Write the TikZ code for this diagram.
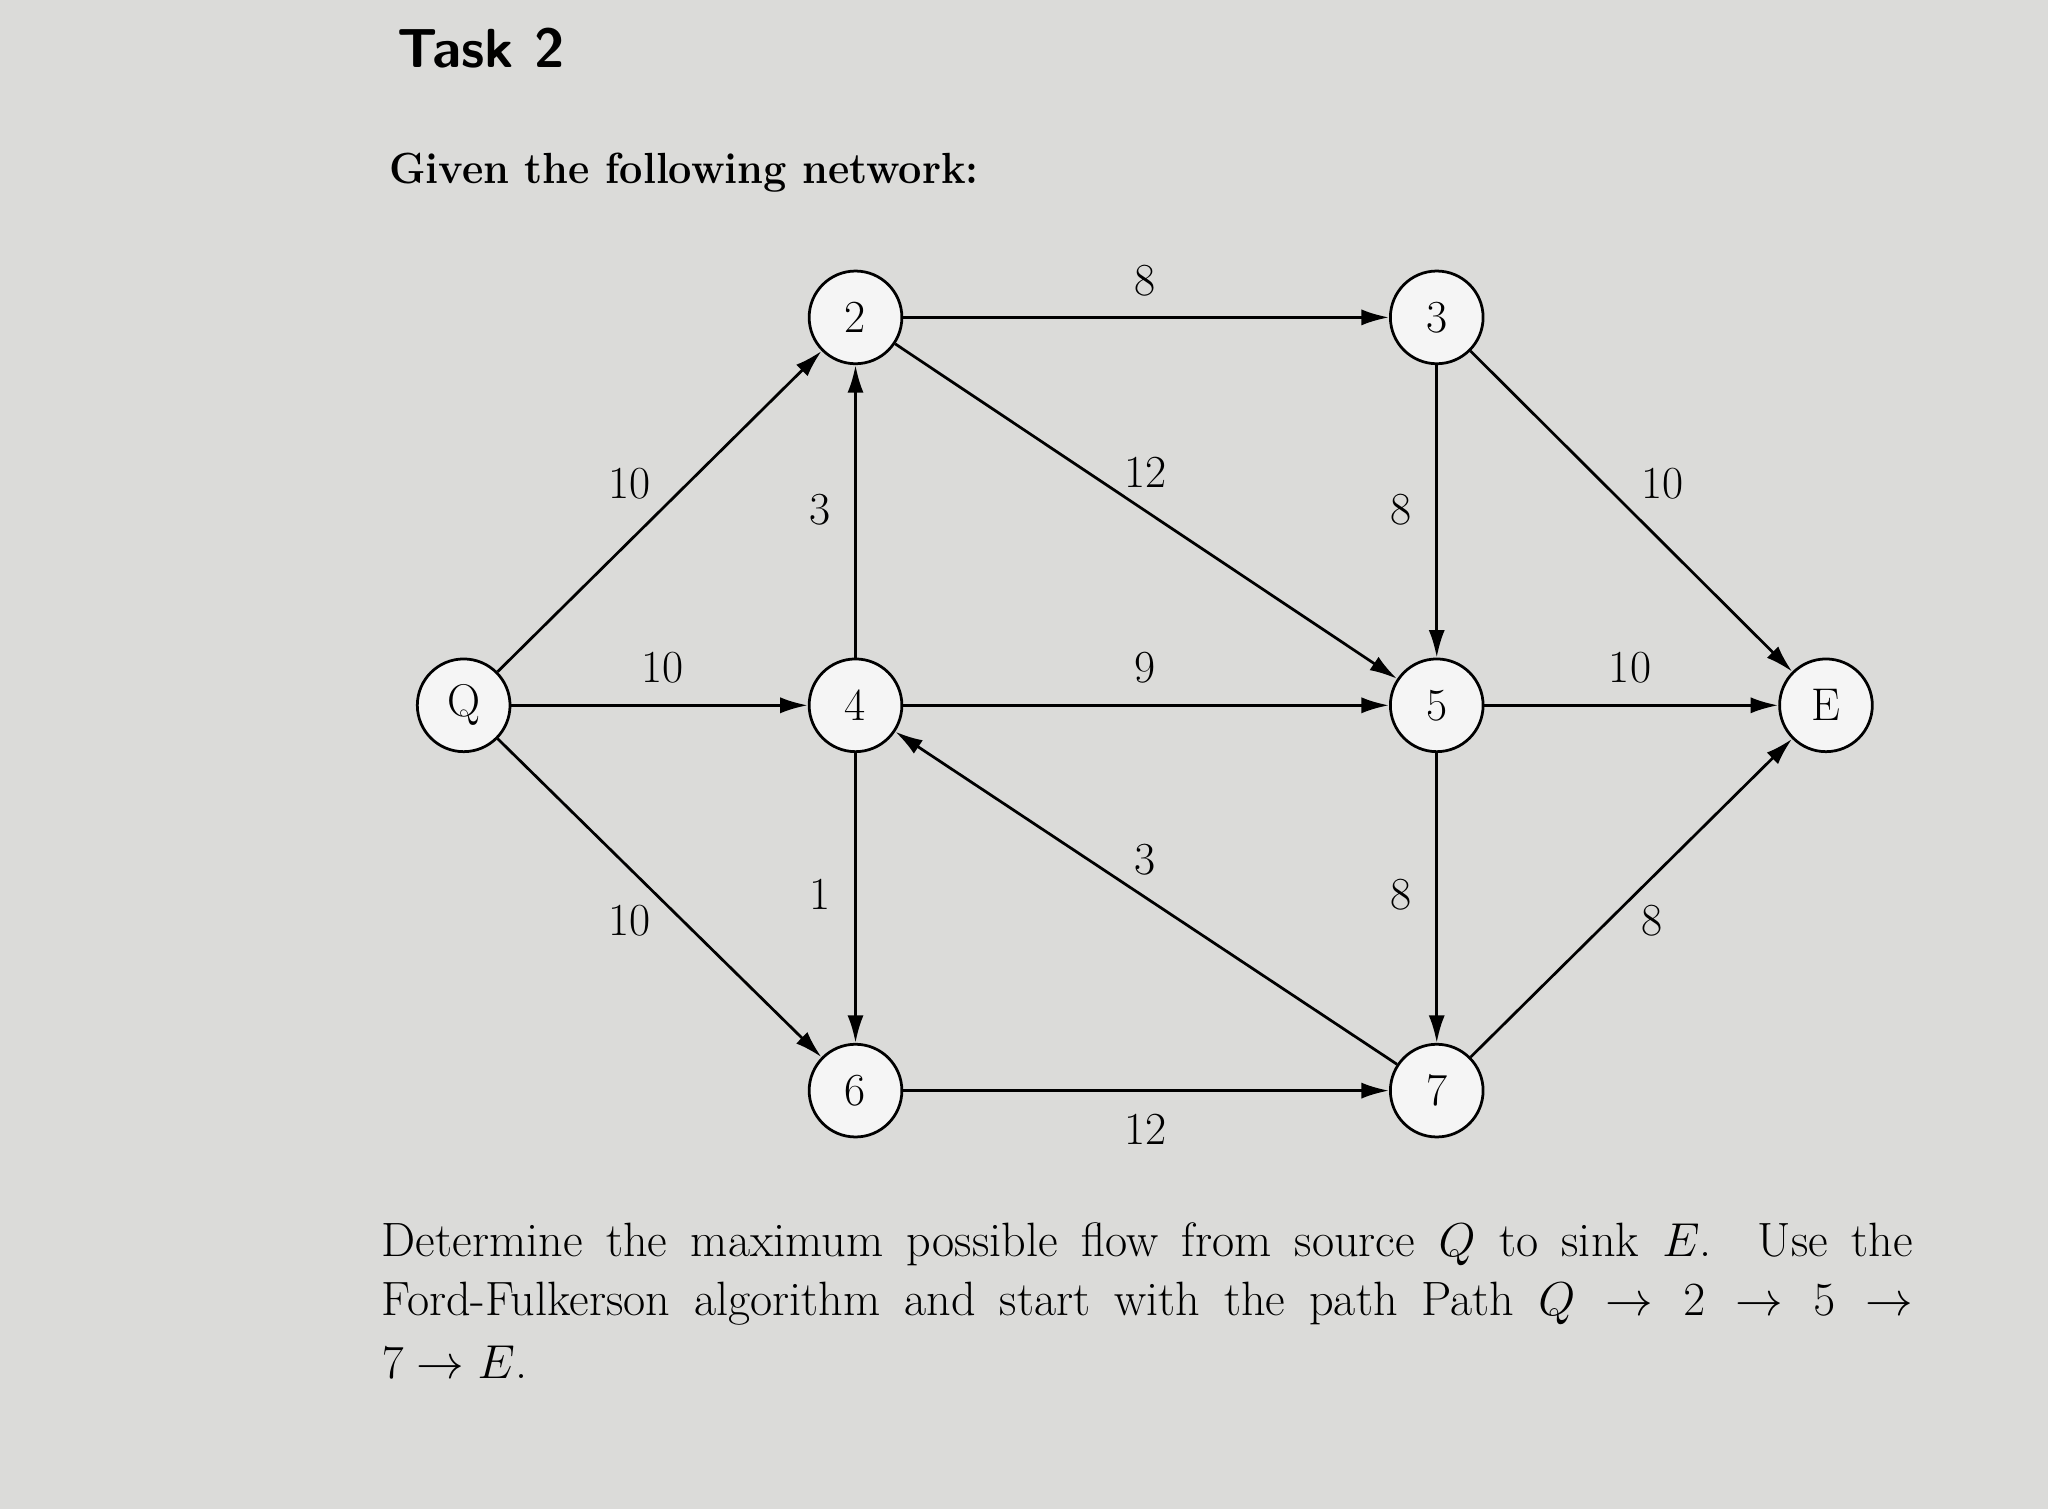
\documentclass[tikz,border=0pt]{standalone}
\usetikzlibrary{arrows.meta}
\begin{document}
\begin{tikzpicture}[x=0.02cm,y=-0.02cm,
  vtx/.style={circle,draw,line width=1.2pt,fill=white!92!gray,minimum size=1.42cm,inner sep=0pt,font=\fontsize{20}{24}\selectfont},
  arr/.style={line width=1.2pt,-{Latex[length=12pt,width=7pt]}},
  lab/.style={font=\fontsize{20}{24}\selectfont},
  txt/.style={font=\bfseries\fontsize{19}{24}\selectfont,anchor=west},
  para/.style={anchor=west,inner sep=0pt,font=\fontsize{21}{23}\selectfont}]
\definecolor{bg}{rgb}{0.86,0.86,0.85}
\fill[bg] (0,0) rectangle (1568,1155);
\useasboundingbox (0,0) rectangle (1568,1155);
\node[anchor=west,font=\sffamily\bfseries\fontsize{24}{28}\selectfont] (t) at (298,37) {Task 2};
\node[txt,xscale=0.95] (g) at (292,132) {Given the following network:};
\node (Q) [vtx] at (355,540) {Q};
\node (n2) [vtx] at (655,243) {2};
\node (n3) [vtx] at (1100,243) {3};
\node (n4) [vtx] at (655,540) {4};
\node (n5) [vtx] at (1100,540) {5};
\node (E) [vtx] at (1398,540) {E};
\node (n6) [vtx] at (655,835) {6};
\node (n7) [vtx] at (1100,835) {7};
\draw[arr] (Q) -- (n2);
\draw[arr] (Q) -- (n4);
\draw[arr] (Q) -- (n6);
\draw[arr] (n2) -- (n3);
\draw[arr] (n2) -- (n5);
\draw[arr] (n4) -- (n2);
\draw[arr] (n4) -- (n5);
\draw[arr] (n4) -- (n6);
\draw[arr] (n3) -- (n5);
\draw[arr] (n3) -- (E);
\draw[arr] (n5) -- (E);
\draw[arr] (n5) -- (n7);
\draw[arr] (n7) -- (n4);
\draw[arr] (n6) -- (n7);
\draw[arr] (n7) -- (E);
\node[lab] (l1) at (877,215) {8};
\node[lab] (l2) at (877,362) {12};
\node[lab] (l3) at (482,370) {10};
\node[lab] (l4) at (628,390) {3};
\node[lab] (l5) at (1073,390) {8};
\node[lab] (l6) at (1273,370) {10};
\node[lab] (l7) at (507,511) {10};
\node[lab] (l8) at (877,511) {9};
\node[lab] (l9) at (1248,511) {10};
\node[lab] (l10) at (482,705) {10};
\node[lab] (l11) at (628,685) {1};
\node[lab] (l12) at (877,658) {3};
\node[lab] (l13) at (1073,685) {8};
\node[lab] (l14) at (1265,705) {8};
\node[lab] (l15) at (877,865) {12};
\node[para] (p1) at (292,953) {\makebox[23.45cm][s]{Determine the maximum possible flow from source $Q$ to sink $E$. Use the}};
\node[para] (p2) at (292,998) {\makebox[23.45cm][s]{Ford-Fulkerson algorithm and start with the path Path $Q\rightarrow 2\rightarrow 5\rightarrow$}};
\node[para] (p3) at (292,1043) {$7\rightarrow E$.};
\end{tikzpicture}
\end{document}
